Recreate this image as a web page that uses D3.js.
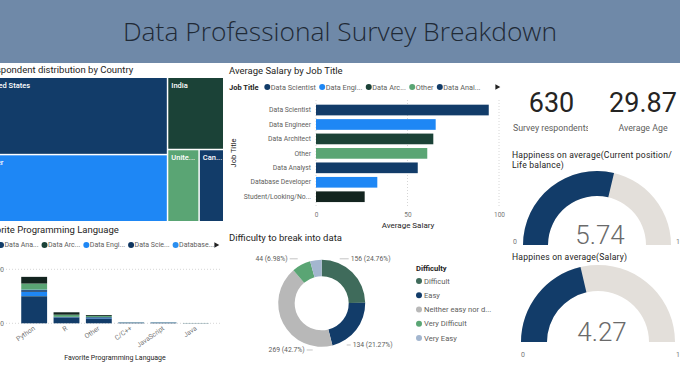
<!DOCTYPE html>
<html>
<head>
<meta charset="utf-8">
<script src="https://cdn.jsdelivr.net/npm/d3@7"></script>
<style>
  html, body { margin: 0; padding: 0; background: #fff; }
  svg { display: block; font-family: Roboto, "Noto Sans", sans-serif; }
</style>
</head>
<body>
<script>
// ---- data ----
const countries = ['United States', 'Other', 'India', 'United Kingdom', 'Canada'];
const countryCounts = [259, 225, 73, 41, 32];

const jobTitles = ['Data Scientist', 'Data Engineer', 'Data Architect', 'Other',
  'Data Analyst', 'Database Developer', 'Student/Looking/None'];
const avgSalary = [94.4, 65.4, 64.1, 60.8, 55.6, 33.5, 26.6];
const jobLegend = ['Data Scientist', 'Data Engi...', 'Data Arc...', 'Other', 'Data Anal...'];

const languages = ['Python', 'R', 'Other', 'C/C++', 'JavaScript', 'Java'];
const langRoles = ['Data Analyst', 'Data Architect', 'Data Engineer', 'Data Scientist',
  'Database Developer', 'Other', 'Student/Looking/None'];
const langAnalyst = [250, 50, 45, 3, 4, 1];
const langArchitect = [2, 1, 1, 0, 0, 0];
const langEngineer = [40, 3, 5, 1, 2, 0];
const langScientist = [15, 5, 6, 2, 1, 1];
const langDbDev = [5, 1, 1, 1, 0, 0];
const langOther = [56, 20, 10, 1, 1, 1];
const langStudent = [62, 22, 8, 1, 1, 0];
const langLegend = ['Data Ana...', 'Data Arc...', 'Data Engi...', 'Data Scie...', 'Database...'];

const difficulty = ['Difficult', 'Easy', 'Neither easy nor difficult', 'Very Difficult', 'Very Easy'];
const difficultyCounts = [156, 134, 269, 44, 27];

const respondents = 630;
const averageAge = 29.87;
const happyLife = 5.74;
const happySalary = 4.27;

// ---- colours ----
const navy = '#123c69', blue = '#1e87f5', dkGreen = '#1b4237', green = '#5aa574', darkest = '#13241f';
const ink = '#252423', grey = '#605e5c';

const svg = d3.select('body').append('svg').attr('width', 680).attr('height', 367);

// Title banner
svg.append('rect').attr('width', 680).attr('height', 63).attr('fill', '#6f89a8');
svg.append('text')
  .attr('x', 340).attr('y', 41)
  .attr('text-anchor', 'middle')
  .style('font-family', '"Open Sans", sans-serif')
  .style('font-weight', 300)
  .style('font-size', '26.4px')
  .attr('fill', '#1f2a36')
  .text('Data Professional Survey Breakdown');

function panelTitle(x, y, txt) {
  svg.append('text').attr('x', x).attr('y', y)
    .style('font-size', '9.5px').attr('fill', ink).text(txt);
}

function fit(sel, maxW) {
  sel.each(function() {
    const t = d3.select(this);
    let s = t.text();
    if (this.getComputedTextLength() <= maxW) return;
    while (s.length > 1) {
      s = s.slice(0, -1);
      t.text(s.trimEnd() + '...');
      if (this.getComputedTextLength() <= maxW) break;
    }
  });
}

function legendRow(items, x, y, gap, size) {
  let cur = x;
  items.forEach(it => {
    svg.append('circle').attr('cx', cur + 3).attr('cy', y).attr('r', 3).attr('fill', it.color);
    const t = svg.append('text').attr('x', cur + 6.5).attr('y', y).attr('dy', '0.35em')
      .style('font-size', size).attr('fill', grey).text(it.label);
    cur += 6.5 + t.node().getComputedTextLength() + gap;
  });
  return cur;
}

// ---- Treemap: respondents by country ----
panelTitle(-15, 73, 'Respondent distribution by Country');
const countryColor = d3.scaleOrdinal(countries, [navy, blue, dkGreen, green, navy]);
const tmBox = {x: -18, y: 78, w: 241, h: 143};
const tmRoot = d3.hierarchy({children: countries.map((c, i) => ({name: c, value: countryCounts[i]}))})
  .sum(d => d.value || 0)
  .sort((a, b) => b.value - a.value);
d3.treemap().tile(d3.treemapSquarify.ratio(2)).size([tmBox.w, tmBox.h]).paddingInner(1.5)(tmRoot);

const cells = svg.append('g').attr('transform', `translate(${tmBox.x},${tmBox.y})`)
  .selectAll('g').data(tmRoot.leaves()).join('g');
cells.append('rect')
  .attr('x', d => d.x0).attr('y', d => d.y0)
  .attr('width', d => d.x1 - d.x0).attr('height', d => d.y1 - d.y0)
  .attr('fill', d => countryColor(d.data.name));
cells.append('text')
  .attr('x', d => d.x0 + 3).attr('y', d => d.y0 + 10)
  .style('font-size', '7.5px').style('font-weight', 500).attr('fill', '#fff')
  .text(d => d.data.name)
  .each(function(d) { fit(d3.select(this), d.x1 - d.x0 - 3); });

// ---- Bar chart: average salary by job title ----
panelTitle(229, 74, 'Average Salary by Job Title');
svg.append('text').attr('x', 229).attr('y', 87).attr('dy', '0.35em')
  .style('font-size', '7.5px').style('font-weight', 700).attr('fill', ink).text('Job Title');
const jobColor = d3.scaleOrdinal(jobTitles, [navy, blue, dkGreen, green, navy, blue, darkest]);
legendRow(jobLegend.map((l, i) => ({label: l, color: jobColor(jobTitles[i])})), 264.3, 87, 3.3, '7.3px');
svg.append('path').attr('d', d3.symbol(d3.symbolTriangle, 14)()).attr('fill', '#222')
  .attr('transform', `translate(497,87) rotate(90)`);

const xSal = d3.scaleLinear().domain([0, 100]).range([316, 499]);
const yJob = d3.scaleBand().domain(jobTitles).range([102.8, 203.95]).paddingInner(0.26).paddingOuter(0.13);

svg.append('g').selectAll('line').data(xSal.ticks(2)).join('line')
  .attr('x1', d => xSal(d)).attr('x2', d => xSal(d)).attr('y1', 100).attr('y2', 206)
  .attr('stroke', '#d6d6d6').attr('stroke-dasharray', '1,2');

svg.append('g').selectAll('rect').data(jobTitles).join('rect')
  .attr('x', xSal(0)).attr('y', d => yJob(d))
  .attr('width', (d, i) => xSal(avgSalary[i]) - xSal(0))
  .attr('height', yJob.bandwidth())
  .attr('fill', d => jobColor(d));

const yAx = svg.append('g').attr('transform', 'translate(311,0)')
  .call(d3.axisLeft(yJob).tickSize(0).tickPadding(0));
yAx.select('.domain').remove();
yAx.selectAll('text').style('font-size', '6.8px').style('font-family', 'Roboto, sans-serif').attr('fill', grey)
  .each(function() { fit(d3.select(this), 68); });

const xAx = svg.append('g').attr('transform', 'translate(0,208)')
  .call(d3.axisBottom(xSal).ticks(2).tickSize(0).tickPadding(4));
xAx.select('.domain').remove();
xAx.selectAll('text').style('font-size', '6.5px').style('font-family', 'Roboto, sans-serif').attr('fill', '#777');

svg.append('text').attr('x', 408).attr('y', 228).attr('text-anchor', 'middle')
  .style('font-size', '8px').attr('fill', ink).text('Average Salary');
svg.append('text').attr('transform', 'translate(236,153) rotate(-90)').attr('text-anchor', 'middle')
  .style('font-size', '7.5px').attr('fill', ink).text('Job Title');

// ---- KPI cards ----
function card(cx, value, label, clipX, clipW) {
  svg.append('text').attr('x', cx).attr('y', 112).attr('text-anchor', 'middle')
    .style('font-size', '27px').attr('fill', '#252423').text(value);
  const id = 'clip' + Math.round(cx);
  svg.append('clipPath').attr('id', id).append('rect')
    .attr('x', clipX).attr('y', 118).attr('width', clipW).attr('height', 20);
  svg.append('text').attr('x', cx).attr('y', 131).attr('text-anchor', 'middle')
    .attr('clip-path', `url(#${id})`)
    .style('font-size', '8.8px').attr('fill', grey).text(label);
}
card(551.5, d3.format(',')(respondents), 'Survey respondents', 505, 83);
card(643, d3.format('.2f')(averageAge), 'Average Age', 600, 80);

// ---- Gauges ----
function gauge(opt) {
  opt.title.forEach((l, i) => {
    svg.append('text').attr('x', 512).attr('y', opt.titleY + i * 10)
      .style('font-size', '8.6px').style('letter-spacing', '0.2px').attr('fill', ink).text(l);
  });
  const scale = d3.scaleLinear().domain([0, 10]).range([-Math.PI / 2, Math.PI / 2]);
  const arc = d3.arc().innerRadius(opt.r).outerRadius(opt.R);
  const g = svg.append('g').attr('transform', `translate(${opt.cx},${opt.cy})`);
  g.append('path').attr('d', arc({startAngle: scale(0), endAngle: scale(10)})).attr('fill', '#e3dfda');
  g.append('path').attr('d', arc({startAngle: scale(0), endAngle: scale(opt.value)})).attr('fill', navy);
  svg.append('text').attr('x', opt.vx).attr('y', opt.cy - 1).attr('text-anchor', 'middle')
    .style('font-size', '26px').style('font-weight', 300).attr('fill', '#6a6a6a')
    .text(d3.format('.2f')(opt.value));
  svg.append('text').attr('x', opt.minX).attr('y', opt.labY).attr('text-anchor', 'middle')
    .style('font-size', '7px').attr('fill', '#777').text(scale.domain()[0]);
  svg.append('text').attr('x', 676).attr('y', opt.labY)
    .style('font-size', '7px').attr('fill', '#777').text(scale.domain()[1]);
}
gauge({title: ['Happiness on average(Current position/', 'Life balance)'], titleY: 158,
  cx: 597, cy: 245, R: 74, r: 49, value: happyLife, vx: 600, minX: 515, labY: 244});
gauge({title: ['Happines on average(Salary)'], titleY: 260,
  cx: 598, cy: 342, R: 77, r: 51, value: happySalary, vx: 602, minX: 523, labY: 357});

// ---- Stacked columns: favourite language ----
panelTitle(-19, 233, 'Favorite Programming Language');
const langSeries = [langAnalyst, langArchitect, langEngineer, langScientist, langDbDev, langOther, langStudent];
const roleColor = d3.scaleOrdinal(langRoles, [navy, dkGreen, blue, '#0f3560', '#2b8ff0', green, darkest]);
legendRow(langLegend.map((l, i) => ({label: l, color: roleColor(langRoles[i])})), -2, 245, 3, '7px');
svg.append('path').attr('d', d3.symbol(d3.symbolTriangle, 14)()).attr('fill', '#222')
  .attr('transform', 'translate(216,245) rotate(90)');

const langRows = languages.map((lang, j) => {
  const row = {lang};
  langRoles.forEach((r, k) => { row[r] = langSeries[k][j]; });
  return row;
});
const stacked = d3.stack().keys(langRoles)(langRows);
const xLang = d3.scaleBand().domain(languages).range([18, 212]).paddingInner(0.2).paddingOuter(0.1);
const yCnt = d3.scaleLinear().domain([0, 500]).range([323.3, 269.3]);

svg.append('g').selectAll('line').data(yCnt.domain()).join('line')
  .attr('x1', 0).attr('x2', 222).attr('y1', d => yCnt(d)).attr('y2', d => yCnt(d))
  .attr('stroke', '#d6d6d6').attr('stroke-dasharray', '1,2');
const yAx2 = svg.append('g').attr('transform', 'translate(4,0)')
  .call(d3.axisLeft(yCnt).tickValues(yCnt.domain()).tickSize(0).tickPadding(0));
yAx2.select('.domain').remove();
yAx2.selectAll('text').style('font-size', '6.5px').style('font-family', 'Roboto, sans-serif').attr('fill', '#777');

svg.append('g').selectAll('g').data(stacked).join('g')
  .attr('fill', d => roleColor(d.key))
  .selectAll('rect').data(d => d).join('rect')
  .attr('x', d => xLang(d.data.lang))
  .attr('y', d => yCnt(d[1]))
  .attr('height', d => yCnt(d[0]) - yCnt(d[1]))
  .attr('width', xLang.bandwidth());

const xAx2 = svg.append('g').attr('transform', 'translate(0,326)')
  .call(d3.axisBottom(xLang).tickSize(0).tickPadding(0));
xAx2.select('.domain').remove();
xAx2.selectAll('text')
  .style('font-size', '6.8px').style('font-family', 'Roboto, sans-serif').attr('fill', '#777')
  .attr('text-anchor', 'end').attr('dy', '0.6em').attr('transform', 'translate(-1,0) rotate(-35)');
svg.append('text').attr('x', 115).attr('y', 360).attr('text-anchor', 'middle')
  .style('font-size', '7px').attr('fill', ink).text('Favorite Programming Language');

// ---- Donut: difficulty ----
panelTitle(229, 241, 'Difficulty to break into data');
const diffColor = d3.scaleOrdinal(difficulty, ['#3f6b5b', navy, '#b8b8b8', green, '#a3b6cf']);
const dc = {x: 321.7, y: 303.3, R: 43.5, r: 27};
const pie = d3.pie().sort(null).value(d => d.v);
const slices = pie(difficulty.map((k, i) => ({k, v: difficultyCounts[i]})));
const donut = svg.append('g').attr('transform', `translate(${dc.x},${dc.y})`);
donut.selectAll('path').data(slices).join('path')
  .attr('d', d3.arc().innerRadius(dc.r).outerRadius(dc.R))
  .attr('fill', d => diffColor(d.data.k));

// label placement: which side / row each labelled slice uses
const labelPlace = {
  'Difficult': {x0: 18, x1: 27, dy: -44.5},
  'Easy': {x0: 25, x1: 29, dy: 41.7},
  'Neither easy nor difficult': {x0: -9, x1: -15, dy: 46.7},
  'Very Difficult': {x0: -24, x1: -32, dy: -44.5}
};
const total = d3.sum(difficultyCounts);
const pct = d3.format('.2~f');
slices.filter(s => labelPlace[s.data.k]).forEach(s => {
  const p = labelPlace[s.data.k];
  const side = Math.sign(p.x1);
  donut.append('line').attr('x1', p.x0).attr('x2', p.x1).attr('y1', p.dy).attr('y2', p.dy)
    .attr('stroke', '#aaa').attr('stroke-width', 0.7);
  donut.append('text').attr('x', p.x1 + side * 2).attr('y', p.dy).attr('dy', '0.35em')
    .attr('text-anchor', side > 0 ? 'start' : 'end')
    .style('font-size', '6.8px').attr('fill', grey)
    .text(`${s.data.v} (${pct(s.data.v / total * 100)}%)`);
});

svg.append('text').attr('x', 416).attr('y', 271)
  .style('font-size', '7.6px').style('font-weight', 700).attr('fill', ink).text('Difficulty');
const legY = d3.scalePoint().domain(difficulty).range([281, 338]);
const dl = svg.append('g').selectAll('g').data(difficulty).join('g')
  .attr('transform', d => `translate(419,${legY(d)})`);
dl.append('circle').attr('r', 3).attr('fill', d => diffColor(d));
dl.append('text').attr('x', 5).attr('dy', '0.35em')
  .style('font-size', '7.6px').attr('fill', grey).text(d => d)
  .each(function() { fit(d3.select(this), 68); });
</script>
</body>
</html>
